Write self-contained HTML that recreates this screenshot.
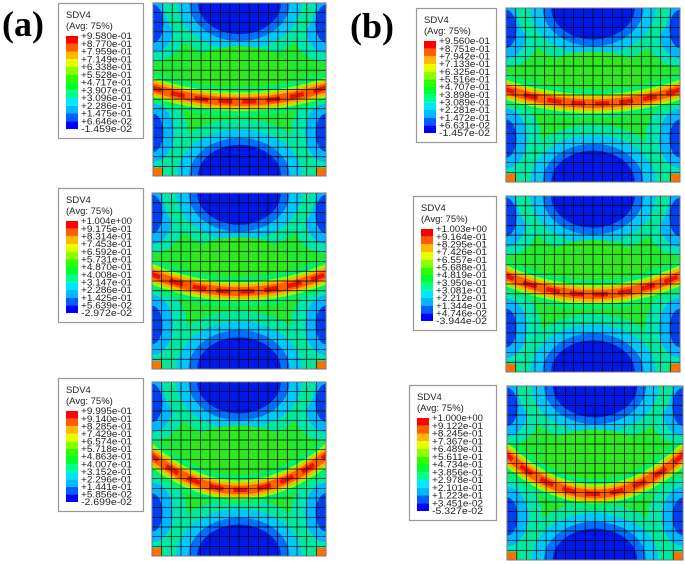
<!DOCTYPE html>
<html><head><meta charset="utf-8"><style>
html,body{margin:0;padding:0;background:#fff;overflow:hidden;}
body{width:685px;height:565px;overflow:hidden;position:relative;font-family:"Liberation Sans",sans-serif;}
svg{display:block;}
</style></head><body>
<svg id="fig" width="685" height="565" xmlns="http://www.w3.org/2000/svg">
<text x="2" y="36" font-family="Liberation Serif,serif" font-weight="bold" font-size="36">(a)</text>
<text x="350" y="38" font-family="Liberation Serif,serif" font-weight="bold" font-size="36">(b)</text>
</svg>
<script>
const colors=["#ff0000","#ff5d00","#ffb900","#e8ff00","#8bff00","#2eff00","#00ff2e","#00ff8b","#00e8ff","#00b9ff","#005dff","#0000ff"];
const labelsA1=["+9.580e-01","+8.770e-01","+7.959e-01","+7.149e-01","+6.338e-01","+5.528e-01","+4.717e-01","+3.907e-01","+3.096e-01","+2.286e-01","+1.475e-01","+6.646e-02","-1.459e-02"];
const labelsA2=["+1.004e+00","+9.175e-01","+8.314e-01","+7.453e-01","+6.592e-01","+5.731e-01","+4.870e-01","+4.008e-01","+3.147e-01","+2.286e-01","+1.425e-01","+5.639e-02","-2.972e-02"];
const labelsA3=["+9.995e-01","+9.140e-01","+8.285e-01","+7.429e-01","+6.574e-01","+5.718e-01","+4.863e-01","+4.007e-01","+3.152e-01","+2.296e-01","+1.441e-01","+5.856e-02","-2.699e-02"];
const labelsB1=["+9.560e-01","+8.751e-01","+7.942e-01","+7.133e-01","+6.325e-01","+5.516e-01","+4.707e-01","+3.898e-01","+3.089e-01","+2.281e-01","+1.472e-01","+6.631e-02","-1.457e-02"];
const labelsB2=["+1.003e+00","+9.164e-01","+8.295e-01","+7.426e-01","+6.557e-01","+5.688e-01","+4.819e-01","+3.950e-01","+3.081e-01","+2.212e-01","+1.344e-01","+4.746e-02","-3.944e-02"];
const labelsB3=["+1.000e+00","+9.122e-01","+8.245e-01","+7.367e-01","+6.489e-01","+5.611e-01","+4.734e-01","+3.856e-01","+2.978e-01","+2.101e-01","+1.223e-01","+3.451e-02","-5.327e-02"];
const svg=document.getElementById('fig');const NS="http://www.w3.org/2000/svg";
function mk(t,a,p){const e=document.createElementNS(NS,t);for(const k in a)e.setAttribute(k,a[k]);(p||svg).appendChild(e);return e;}
function legend(x,y,w,h,labels,name){
 const g=mk('g',{});
 
 
 mk('rect',{x:x+.5,y:y+.5,width:w,height:h,fill:'#fff',stroke:'#999','stroke-width':1.2},g);
 const t1=mk('text',{x:x+8,y:y+15,'font-size':9.5,fill:'#222'},g);t1.textContent='SDV4';
 const t2=mk('text',{x:x+8,y:y+26,'font-size':9.5,fill:'#222'},g);t2.textContent='(Avg: 75%)';
 const sy=y+33,sh=(h-42)/12;
 colors.forEach((c,i)=>{mk('rect',{x:x+8,y:sy+i*sh,width:12,height:sh,fill:c},g);});
 labels.forEach((l,i)=>{const t=mk('text',{x:x+23,y:sy+i*sh+3.2,'font-size':8.8,fill:'#222',textLength:51,lengthAdjust:'spacingAndGlyphs'},g);t.textContent=l;});
}
function plot(x,y,w,h,edge,mid,name){
 const g=mk('g',{transform:`translate(${x},${y})`});
 
 
 const cid='c'+name;const cp=mk('clipPath',{id:cid},g);mk('rect',{x:0,y:0,width:w,height:h},cp);
 const s=mk('g',{'clip-path':`url(#${cid})`},g);
 mk('rect',{x:0,y:0,width:w,height:h,fill:'#22e830'},s);
 [[0,.12],[1,.12],[0,.75],[1,.75]].forEach(([cx,cy])=>{
  mk('ellipse',{cx:cx*w,cy:cy*h,rx:.2*w,ry:.22*h,fill:'#00e8b0'},s);
  mk('ellipse',{cx:cx*w,cy:cy*h,rx:.12*w,ry:.17*h,fill:'#00b8ff'},s);
  mk('ellipse',{cx:cx*w,cy:cy*h,rx:.06*w,ry:.11*h,fill:'#0040f0'},s);
 });
 [[.5,0],[.5,1]].forEach(([cx,cy])=>{
  mk('ellipse',{cx:cx*w,cy:cy*h,rx:.44*w,ry:.33*h,fill:'#00e8a0'},s);
  mk('ellipse',{cx:cx*w,cy:cy*h,rx:.36*w,ry:.27*h,fill:'#00c8f8'},s);
  mk('ellipse',{cx:cx*w,cy:cy*h,rx:.29*w,ry:.22*h,fill:'#0070ff'},s);
  mk('ellipse',{cx:cx*w,cy:cy*h,rx:.24*w,ry:.18*h,fill:'#0018e8'},s);
 });
 mk('ellipse',{cx:.5*w,cy:.4*h,rx:.3*w,ry:.15*h,fill:'#30e820'},s);
 const e=edge*h,m=mid*h,c=2*m-e;
 const d=`M-5,${e} Q${w/2},${c} ${w+5},${e}`;
 mk('path',{d,fill:'none',stroke:'#00f070','stroke-width':.17*h},s);
 mk('path',{d,fill:'none',stroke:'#90ff00','stroke-width':.11*h},s);
 mk('path',{d,fill:'none',stroke:'#ffb000','stroke-width':.08*h},s);
 mk('path',{d,fill:'none',stroke:'#ff6000','stroke-width':.05*h},s);
 mk('path',{d,fill:'none',stroke:'#ee1000','stroke-width':.025*h,'stroke-dasharray':'14 10'},s);
 mk('rect',{x:0,y:h-8,width:9,height:8,fill:'#ff7000'},s);
 mk('rect',{x:w-9,y:h-8,width:9,height:8,fill:'#ff7000'},s);
 for(let i=0;i<=18;i++){const p=i*w/18,q=i*h/18;
  mk('line',{x1:p,y1:0,x2:p,y2:h,stroke:'#000','stroke-width':.7},s);
  mk('line',{x1:0,y1:q,x2:w,y2:q,stroke:'#000','stroke-width':.7},s);}
 mk('rect',{x:0,y:0,width:w,height:h,fill:'none',stroke:'#777','stroke-width':1},g);
}
legend(58,3,85,135,labelsA1,'legend-a1');plot(153,3,173,173,.48,.57,'contour-a1');
legend(58,188,85,134,labelsA2,'legend-a2');plot(152,193,174,176,.45,.56,'contour-a2');
legend(58,378,85,133,labelsA3,'legend-a3');plot(152,382,174,174,.4,.62,'contour-a3');
legend(416,8,80,134,labelsB1,'legend-b1');plot(506,8,174,174,.46,.55,'contour-b1');
legend(413,196,83,134,labelsB2,'legend-b2');plot(506,196,174,176,.44,.56,'contour-b2');
legend(409,385,87,135,labelsB3,'legend-b3');plot(507,386,176,174,.37,.62,'contour-b3');
</script>
</body></html>
